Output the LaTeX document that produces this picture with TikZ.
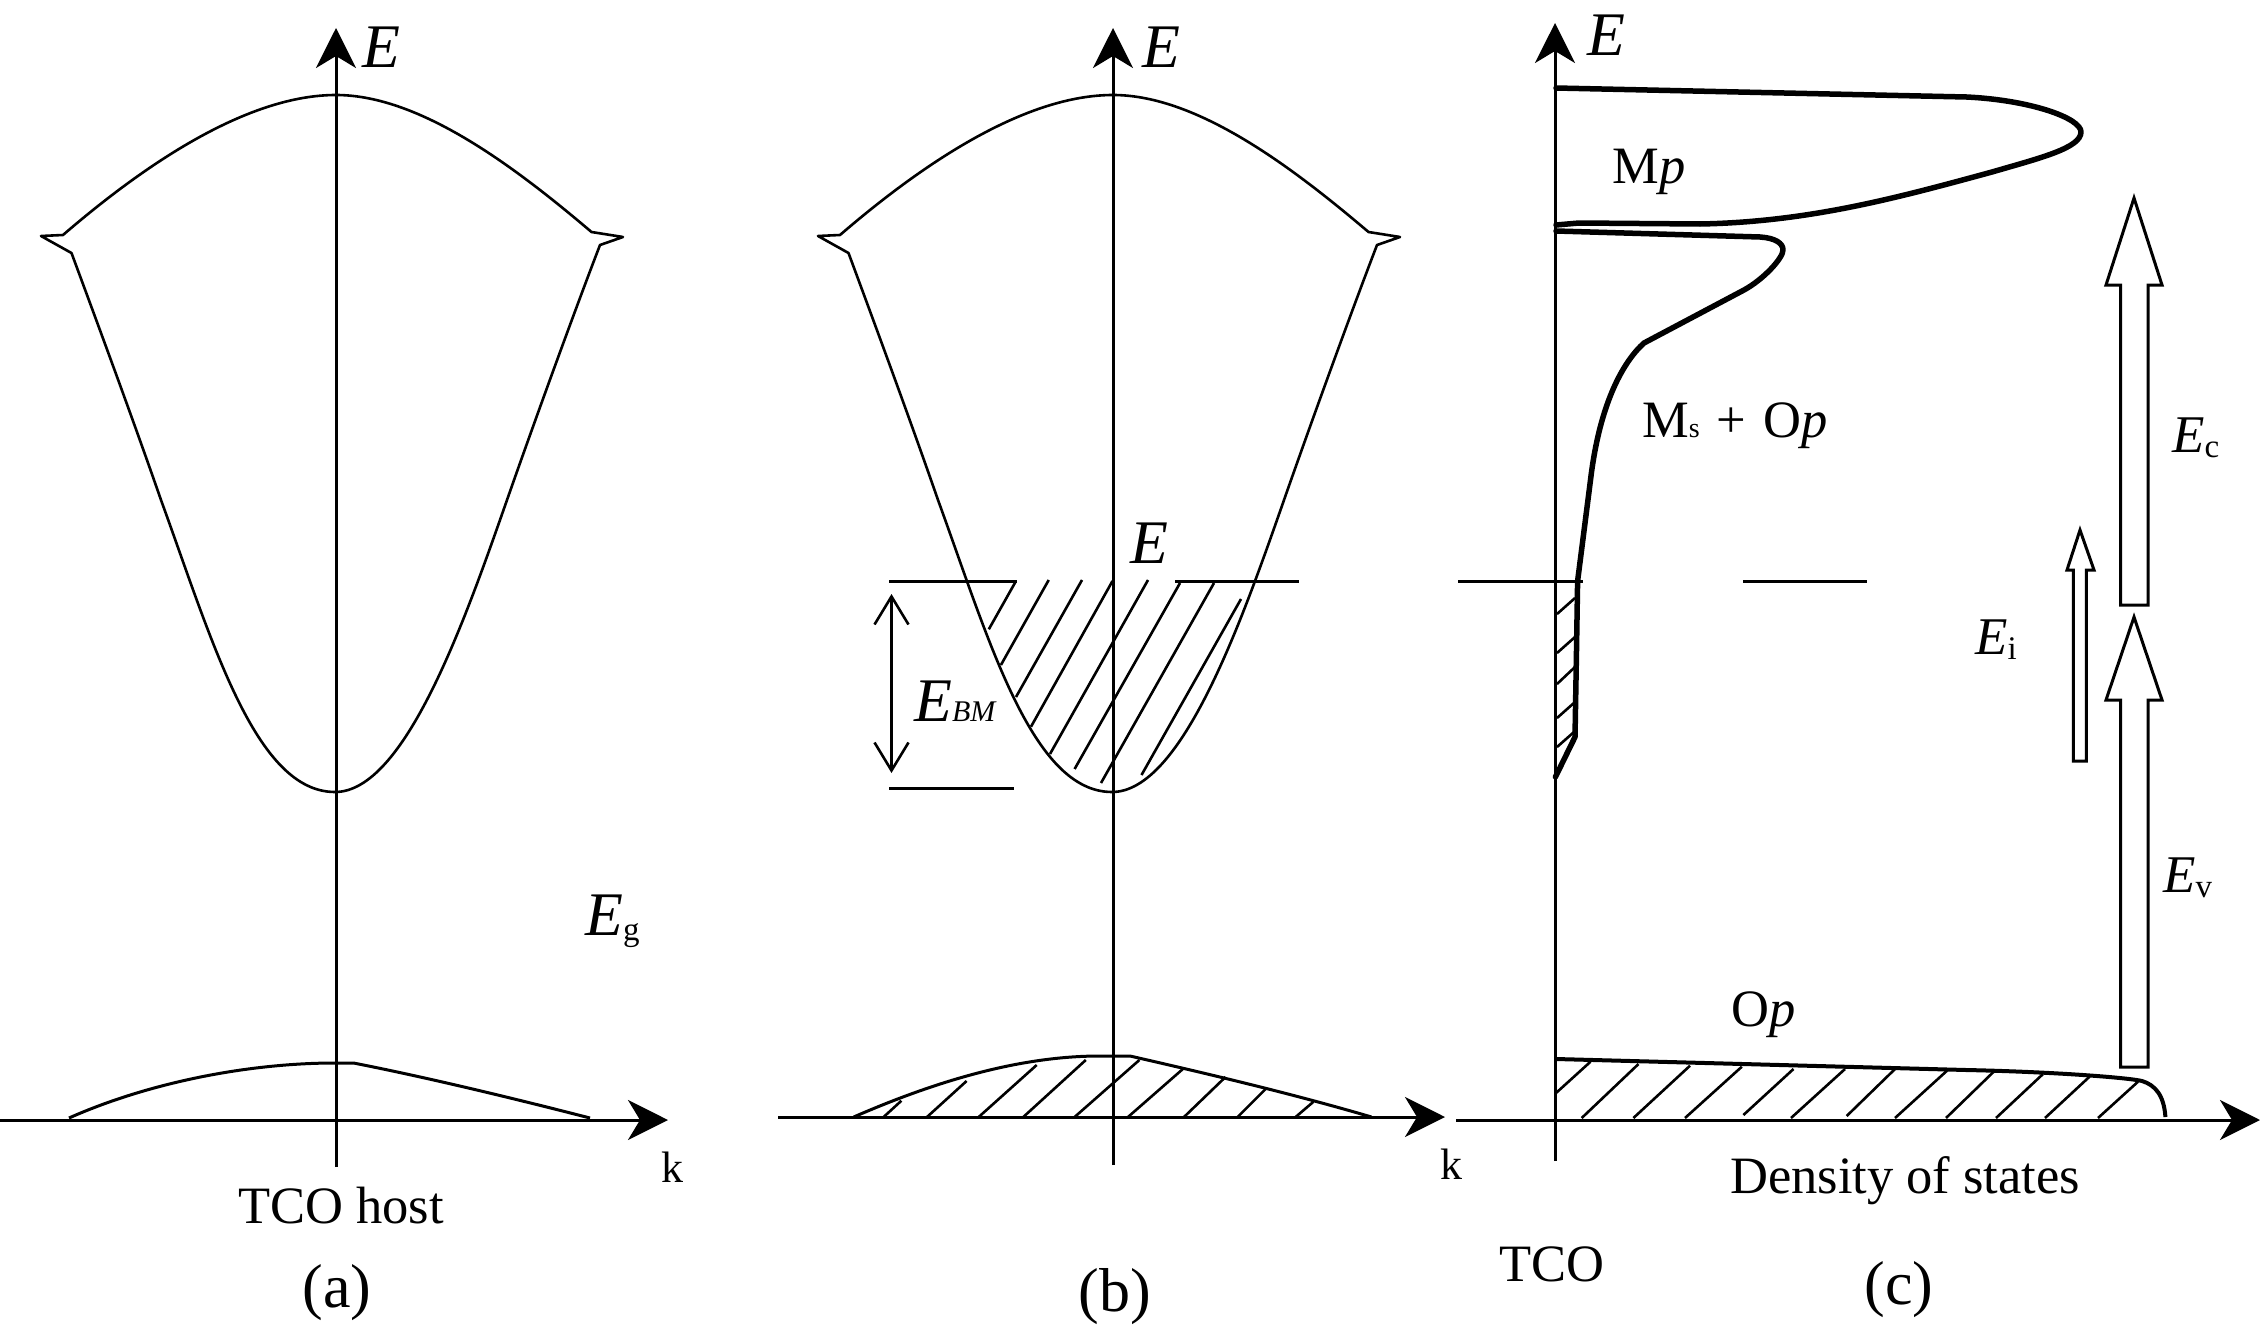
\documentclass[tikz,border=0pt]{standalone}
\usepackage{fontspec}
\setmainfont{Liberation Serif}
\usetikzlibrary{arrows.meta}
\newcommand{\fsz}[1]{\fontsize{#1}{#1}\selectfont}
\newcommand{\lowsub}[1]{\raisebox{-5pt}{\upshape\fsz{33}#1}}
\newcommand{\bandcurve}{%
  (41,236) -- (63,235)
  .. controls (150,160) and (250,95) .. (336,95)
  .. controls (420,95) and (515,167) .. (591.5,232)
  -- (623,237) -- (600,245)
  .. controls (575,310) and (535,420) .. (507,500)
  .. controls (465,620) and (405,792) .. (335,792)
  .. controls (255,792) and (212,640) .. (161,500)
  .. controls (135,425) and (100,330) .. (71.5,253) -- cycle}
\tikzset{
  x=1pt,y=-1pt,
  thinline/.style={line width=2.6pt,black,line join=round},
  axisline/.style={line width=3pt,black},
  axisarrow/.style={axisline,-{Stealth[length=40pt,width=40pt,inset=12pt]}},
  hatchline/.style={line width=2.6pt,black},
  dosline/.style={line width=5.5pt,black,line join=round,line cap=round},
  blockarrow/.style={line width=3pt,black,fill=white,line join=miter},
  barbarrow/.style={line width=2.6pt,black,{Straight Barb[length=28pt,width=34pt]}-{Straight Barb[length=28pt,width=34pt]}},
  lab/.style={anchor=base west,inner sep=0pt,font=\fsz{52.5}},
  big/.style={anchor=base,inner sep=0pt,font=\fsz{62}},
  sym/.style={anchor=base west,inner sep=0pt,font=\fsz{62}\itshape},
  symsmall/.style={anchor=base west,inner sep=0pt,font=\fsz{53}\itshape},
  klab/.style={anchor=base west,inner sep=0pt,font=\fsz{44}},
}
\begin{document}
\begin{tikzpicture}
\useasboundingbox[fill=white] (0,0) rectangle (2260,1330);

% ---------- panel (a)
\coordinate (aB) at (336,1167); \coordinate (aT) at (336,28);
\coordinate (aL) at (0,1120);   \coordinate (aR) at (668,1120);
\draw[thinline] \bandcurve;
\draw[axisarrow] (aB) -- (aT);
\draw[axisarrow] (aL) -- (aR);
\draw[thinline,line width=3pt] (69,1118) .. controls (150,1082) and (250,1063) .. (335,1063) -- (353.5,1063) .. controls (430,1078) and (520,1100) .. (590,1118);
\node[sym] (aE) at (362,68) {E};
\node[sym] (aEg) at (585,935) {E\lowsub{g}};
\node[klab] (ak) at (661,1182) {k};
\node[lab] (ahost) at (238,1223) {TCO host};
\node[big] (acap) at (337,1307) {(a)};

% ---------- panel (b)
\coordinate (bB) at (1113,1165); \coordinate (bT) at (1113,28);
\coordinate (bL) at (778,1117);  \coordinate (bR) at (1445,1117);
\begin{scope}[xshift=777pt]
\draw[thinline] \bandcurve;
\end{scope}
\draw[axisarrow] (bB) -- (bT);
\draw[axisarrow] (bL) -- (bR);
\draw[thinline,line width=3pt] (853.7,1117) .. controls (950,1075) and (1030,1056) .. (1100,1056) -- (1130,1056) .. controls (1200,1072) and (1290,1093) .. (1371.5,1117);
\coordinate (f1a) at (889,581);  \coordinate (f1b) at (1016.5,581);
\coordinate (f2a) at (1175,581); \coordinate (f2b) at (1299,581);
\coordinate (f0a) at (889,788);  \coordinate (f0b) at (1014,788);
\draw[axisline] (f1a) -- (f1b);
\draw[axisline] (f2a) -- (f2b);
\draw[axisline] (f0a) -- (f0b);
\coordinate (dT) at (891.5,594); \coordinate (dB) at (891.5,773);
\draw[barbarrow] (dB) -- (dT);
\foreach \xa/\ya/\xb/\yb in {
  1015.6/581.7/988.8/629.3, 1048.7/580/1000.9/665, 1082/580/1016/697,
  1112.5/581/1031/726.7, 1148/580/1050/754, 1180/583/1074.6/769,
  1214/583/1101/783, 1241/599/1141.5/775,
  901.4/1100.7/883.6/1117, 966.6/1081/927/1117, 1036.7/1065/978.7/1117,
  1085.8/1060/1023.3/1117, 1139.4/1060/1074.6/1117, 1184/1068/1128/1117,
  1225.5/1077/1184/1117, 1266.6/1088/1237.6/1117, 1313.5/1101.7/1295.6/1117}
  \draw[hatchline] (\xa,\ya) -- (\xb,\yb);
\node[sym] (bE) at (1142,68) {E};
\node[sym] (bEf) at (1130,563) {E};
\node[sym] (bEbm) at (914,721) {E{\fsz{30}BM}};
\node[klab] (bk) at (1440,1179) {k};
\node[big] (bcap) at (1115,1311) {(b)};

% ---------- panel (c)
\coordinate (cB) at (1555,1161); \coordinate (cT) at (1555,23);
\coordinate (cL) at (1456,1120); \coordinate (cR) at (2260,1120);
\draw[axisarrow] (cB) -- (cT);
\draw[axisarrow] (cL) -- (cR);
\coordinate (f3a) at (1458,581); \coordinate (f3b) at (1583,581);
\coordinate (f4a) at (1743,581); \coordinate (f4b) at (1867,581);
\draw[axisline] (f3a) -- (f3b);
\draw[axisline] (f4a) -- (f4b);
\draw[dosline] (1556,88) -- (1966.5,97) .. controls (2030,100) and (2081,118) .. (2081,132)
  .. controls (2081,148) and (2040,158) .. (1992,172)
  .. controls (1900,197) and (1810,222) .. (1700,224) -- (1579,223) -- (1556,225);
\draw[dosline] (1556,231) -- (1760,237) .. controls (1775,238) and (1783,243) .. (1783,250)
  .. controls (1783,258) and (1764,279) .. (1744,290) -- (1644,343)
  .. controls (1625,360) and (1600,400) .. (1590.5,480)
  -- (1577.6,581) -- (1576.5,650) -- (1575,737) -- (1555.4,777);
\draw[thinline,line width=4pt] (1556,1059) -- (1966,1070)
  .. controls (2060,1072) and (2130,1078) .. (2142,1081)
  .. controls (2155,1085) and (2164,1095) .. (2165.4,1117);
\foreach \xa/\ya/\xb/\yb in {
  1575/598/1557/614, 1575/637/1557/653, 1575/667/1557/684, 1575/702/1557/718, 1574/732/1557/747,
  1590.5/1061.7/1556/1093, 1638.5/1064/1581.7/1118, 1690/1065.7/1633.4/1118,
  1741.8/1066.7/1685/1118, 1793.5/1069/1743.4/1115, 1845/1069/1791/1118,
  1895/1069/1846.7/1116, 1947/1070.7/1895/1118, 1993.4/1072/1946/1118,
  2043/1074/1996/1118, 2089.5/1076.7/2045/1118, 2138/1081.7/2098/1118}
  \draw[hatchline] (\xa,\ya) -- (\xb,\yb);
\draw[blockarrow] (2120.5,605) -- (2120.5,285) -- (2106,285) -- (2134,198) -- (2162,285) -- (2148,285) -- (2148,605) -- cycle;
\draw[blockarrow] (2120.5,1067) -- (2120.5,700) -- (2106,700) -- (2134,617) -- (2162,700) -- (2148,700) -- (2148,1067) -- cycle;
\draw[blockarrow] (2073.4,761) -- (2073.4,570) -- (2067,570) -- (2080,530) -- (2094,570) -- (2086.4,570) -- (2086.4,761) -- cycle;
\node[sym] (cE) at (1587,56) {E};
\node[lab] (cMp) at (1612.7,183) {M\textit{p}};
\node[lab] (cMs) at (1642,437) {M{\fsz{28}s}\hspace{17pt}+\hspace{17pt}O\textit{p}};
\node[symsmall] (cEc) at (2172,452) {E\lowsub{c}};
\node[symsmall] (cEi) at (1975,654) {E\lowsub{i}};
\node[symsmall] (cEv) at (2163,892) {E\lowsub{v}};
\node[lab] (cOp) at (1731.5,1026) {O\textit{p}};
\node[lab] (cdos) at (1730,1193) {Density of states};
\node[lab] (cTCO) at (1499,1281) {TCO};
\node[big] (ccap) at (1899,1304) {(c)};
\end{tikzpicture}
\end{document}
